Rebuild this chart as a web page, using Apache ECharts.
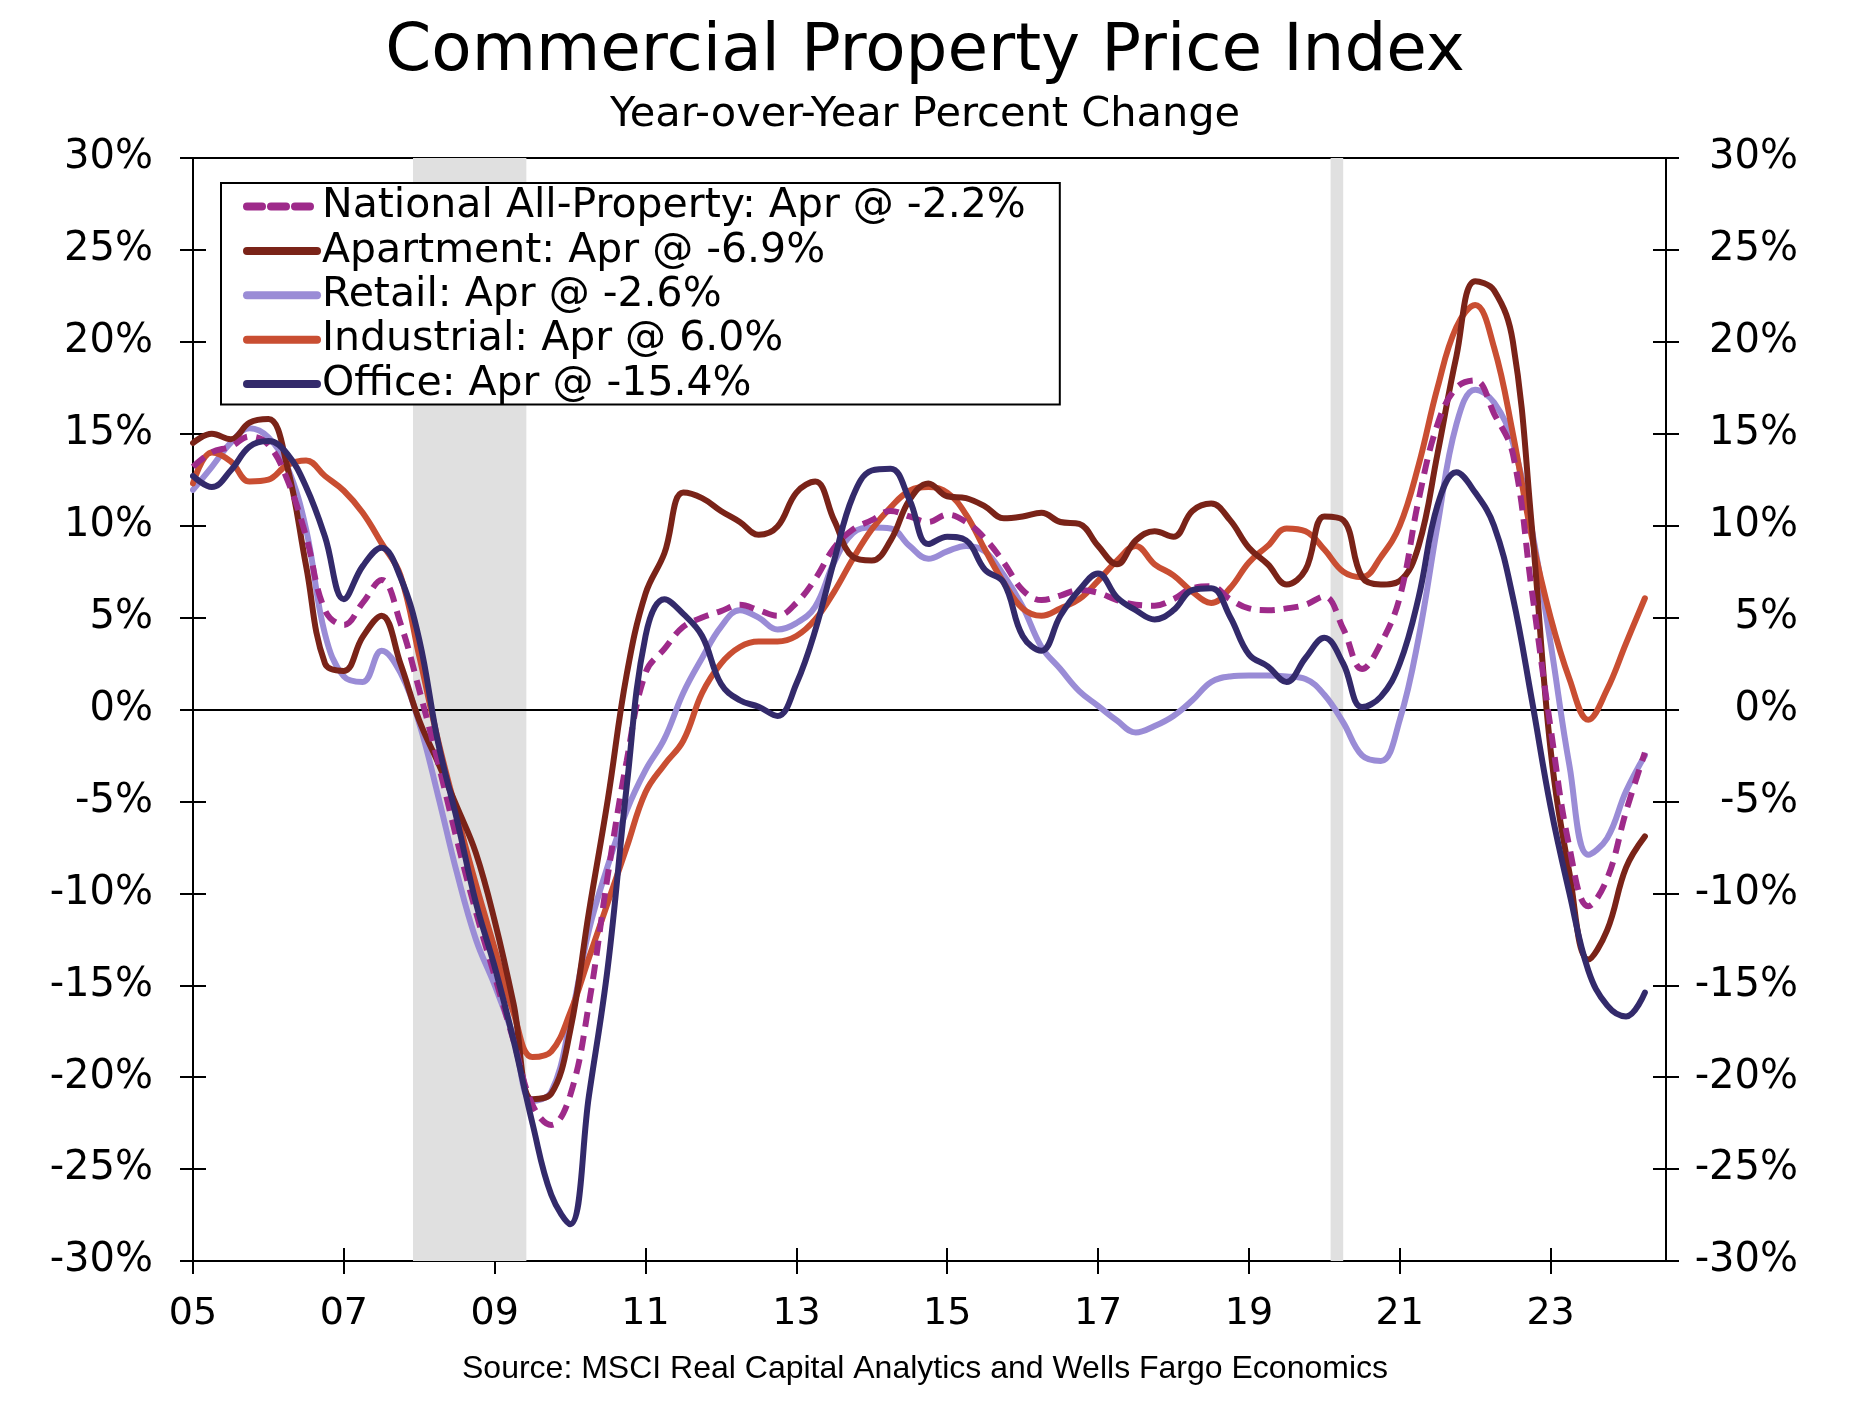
<!DOCTYPE html>
<html><head><meta charset="utf-8">
<script src="https://cdn.jsdelivr.net/npm/echarts@6/dist/echarts.min.js"></script>
<style>html,body{margin:0;padding:0;background:#fff}#c{width:1850px;height:1410px}</style>
</head><body><div id="c"></div>
<script>
// Quarterly observations, Jan 2005 ... Apr 2024 (decimal years)
const dates = [];
for (let y = 2005; y <= 2024; y++) { for (let q = 0; q < 4; q++) { const d = y + q * 0.25; if (d <= 2024.25) dates.push(d); } }

const yearTicks = [2005, 2007, 2009, 2011, 2013, 2015, 2017, 2019, 2021, 2023];
const recessions = [[2007.917, 2009.42], [2020.083, 2020.25]];

const national = [13.2, 14.0, 14.3, 14.85, 14.4, 12.5, 9.4, 5.4, 4.6, 5.8, 7.05, 4.7, 1.06, -2.9, -7.1, -11.0,
  -14.5, -18.0, -21.5, -22.6, -21.0, -16.0, -9.0, -2.8, 2.0, 3.3, 4.5, 5.0, 5.35, 5.7, 5.4, 5.1,
  5.8, 7.1, 8.8, 9.8, 10.3, 10.8, 10.5, 10.2, 10.6, 10.2, 9.3, 8.0, 6.5, 5.95, 6.2, 6.5,
  6.35, 5.95, 5.7, 5.65, 6.0, 6.6, 6.7, 6.0, 5.5, 5.4, 5.5, 5.7, 6.15, 4.4, 2.2, 3.6,
  6.1, 11.4, 15.5, 17.5, 17.9, 16.1, 13.9, 6.5, -1.0, -7.5, -10.7, -9.2, -5.55, -2.35];
const apartment = [14.5, 15.0, 14.7, 15.6, 15.8, 13.2, 7.8, 2.5, 2.1, 3.95, 5.1, 2.5, -0.6, -2.9, -5.3, -7.8,
  -11.5, -16.0, -21.2, -20.9, -17.5, -11.0, -4.9, 1.9, 6.3, 8.5, 11.8, 11.5, 10.8, 10.2, 9.5, 9.95,
  11.8, 12.4, 10.3, 8.3, 8.1, 9.2, 11.4, 12.3, 11.6, 11.5, 11.05, 10.4, 10.5, 10.7, 10.2, 10.1,
  8.9, 7.9, 9.2, 9.7, 9.4, 10.8, 11.2, 10.3, 8.8, 7.9, 6.8, 7.6, 10.5, 10.3, 7.2, 6.8,
  7.0, 8.9, 13.9, 19.2, 23.3, 22.8, 20.0, 10.0, -2.2, -8.9, -13.6, -12.0, -8.6, -6.9];
const retail = [11.95, 13.2, 14.5, 15.3, 14.8, 13.2, 9.8, 4.1, 1.8, 1.5, 3.2, 2.0, -0.75, -4.7, -8.9, -12.5,
  -15.0, -17.8, -21.3, -20.8, -17.0, -12.0, -8.5, -5.5, -3.3, -1.6, 0.9, 2.8, 4.5, 5.4, 5.0, 4.35,
  4.7, 5.6, 8.0, 9.6, 9.9, 9.85, 8.9, 8.2, 8.6, 8.9, 8.6, 7.3, 5.6, 3.4, 2.2, 1.0,
  0.2, -0.6, -1.25, -0.9, -0.35, 0.5, 1.5, 1.8, 1.85, 1.85, 1.8, 1.66, 0.8, -0.7, -2.5, -2.8,
  -0.56, 3.9, 10.0, 15.5, 17.4, 16.7, 14.5, 9.8, 3.6, -3.06, -7.9, -7.0, -4.45, -2.5];
const industrial = [12.3, 13.98, 13.5, 12.4, 12.5, 13.3, 13.55, 12.7, 11.9, 10.7, 9.05, 7.3, 2.9, -1.7, -5.7, -9.5,
  -13.0, -16.5, -18.9, -18.6, -16.5, -13.5, -10.5, -7.5, -4.5, -3.0, -1.7, 0.9, 2.5, 3.4, 3.7, 3.7,
  4.0, 4.9, 6.4, 8.2, 9.8, 11.0, 11.9, 12.1, 11.8, 10.6, 8.7, 6.9, 5.5, 5.1, 5.5, 6.0,
  7.0, 8.1, 8.9, 7.9, 7.3, 6.4, 5.8, 6.6, 8.0, 8.9, 9.85, 9.7, 8.7, 7.5, 7.2, 8.3,
  10.0, 13.3, 17.5, 20.8, 22.0, 19.7, 15.0, 9.4, 5.0, 1.66, -0.56, 1.1, 3.6, 6.05];
const office = [12.7, 12.1, 13.0, 14.3, 14.6, 13.9, 12.1, 9.4, 6.0, 7.8, 8.8, 7.2, 3.8, -1.8, -6.0, -10.5,
  -14.0, -18.0, -22.5, -26.4, -28.0, -21.0, -14.0, -4.2, 4.0, 6.0, 5.2, 4.0, 1.4, 0.5, 0.15, -0.35,
  1.4, 4.3, 8.1, 11.6, 13.0, 13.1, 11.4, 9.0, 9.4, 9.2, 7.6, 6.9, 4.0, 3.2, 5.1, 6.5,
  7.4, 6.1, 5.4, 4.9, 5.4, 6.5, 6.6, 5.05, 3.0, 2.35, 1.5, 2.8, 3.9, 2.5, 0.13, 0.7,
  2.5, 6.1, 11.1, 12.9, 11.8, 10.0, 6.1, 0.55, -5.3, -10.0, -14.2, -16.1, -16.7, -15.4];

const names = {
  national: 'National All-Property: Apr @ -2.2%',
  apartment: 'Apartment: Apr @ -6.9%',
  retail: 'Retail: Apr @ -2.6%',
  industrial: 'Industrial: Apr @ 6.0%',
  office: 'Office: Apr @ -15.4%'
};
const colors = { national: '#9E2A8A', apartment: '#7A2318', retail: '#9A8CD6', industrial: '#C94E32', office: '#332A6B' };

const FONT = 'DejaVu Sans';
const pair = arr => dates.map((d, i) => [d, arr[i]]);

function lineSeries(key, arr, extra) {
  return Object.assign({
    name: names[key], type: 'line', data: pair(arr), smooth: 0.4,
    showSymbol: false, symbol: 'none', animation: false, silent: true,
    lineStyle: { color: colors[key], width: 6, cap: 'round', join: 'round' },
    itemStyle: { color: colors[key] }, z: 3
  }, extra || {});
}

const yCommon = { type: 'value', min: -30, max: 30, interval: 5, splitLine: { show: false } };
const tickStyle = { color: '#000', width: 2 };
const xCommon = { type: 'value', min: 2005, max: 2024.53, position: 'bottom', splitLine: { show: false },
  axisLine: { show: false, onZero: false } };

const option = {
  backgroundColor: '#fff',
  animation: false,
  title: [
    { text: 'Commercial Property Price Index', left: 'center', top: 20, padding: 0,
      textStyle: { fontFamily: FONT, fontSize: 66, fontWeight: 'normal', color: '#000' } },
    { text: 'Year-over-Year Percent Change', left: 'center', top: 94, padding: 0,
      textStyle: { fontFamily: FONT, fontSize: 41.5, fontWeight: 'normal', color: '#000' } },
    { text: 'Source: MSCI Real Capital Analytics and Wells Fargo Economics', left: 'center', top: 1353, padding: 0,
      textStyle: { fontFamily: 'Liberation Sans', fontSize: 32, fontWeight: 'normal', color: '#000' } }
  ],
  grid: { left: 193, right: 184, top: 158, bottom: 149, show: true, borderColor: '#000', borderWidth: 2, backgroundColor: 'transparent', containLabel: false },
  legend: {
    orient: 'vertical', left: 221, top: 183, padding: [3, 34, 0, 22],
    itemWidth: 70, itemHeight: 14, itemGap: 3.4,
    data: [names.national, names.apartment, names.retail, names.industrial, names.office],
    textStyle: { fontFamily: FONT, fontSize: 41, color: '#000' },
    itemStyle: { opacity: 0 },
    lineStyle: { width: 8, cap: 'round' },
    borderColor: '#000', borderWidth: 2, backgroundColor: '#fff', borderRadius: 0,
    selectedMode: false
  },
  xAxis: [
    Object.assign({}, xCommon, {
      axisTick: { show: true, inside: false, length: 13, lineStyle: tickStyle, customValues: yearTicks },
      axisLabel: { show: true, customValues: yearTicks, margin: 34, fontFamily: FONT, fontSize: 38, color: '#000',
        formatter: v => String(Math.round(v) % 100).padStart(2, '0') } }),
    Object.assign({}, xCommon, {
      axisTick: { show: true, inside: true, length: 13, lineStyle: tickStyle, customValues: yearTicks },
      axisLabel: { show: false } })
  ],
  yAxis: [
    Object.assign({}, yCommon, { position: 'left',
      axisLine: { show: false, onZero: false },
      axisTick: { show: true, inside: false, length: 13, lineStyle: tickStyle },
      axisLabel: { margin: 40, fontFamily: FONT, fontSize: 40, color: '#000', formatter: v => v + '%' } }),
    Object.assign({}, yCommon, { position: 'right',
      axisLine: { show: false, onZero: false },
      axisTick: { show: true, inside: false, length: 13, lineStyle: tickStyle },
      axisLabel: { margin: 132, align: 'right', fontFamily: FONT, fontSize: 40, color: '#000', formatter: v => v + '%' } }),
    Object.assign({}, yCommon, { position: 'left',
      axisLine: { show: false, onZero: false },
      axisTick: { show: true, inside: true, length: 13, lineStyle: tickStyle },
      axisLabel: { show: false } }),
    Object.assign({}, yCommon, { position: 'right',
      axisLine: { show: false, onZero: false },
      axisTick: { show: true, inside: true, length: 13, lineStyle: tickStyle },
      axisLabel: { show: false } })
  ],
  series: [
    lineSeries('retail', retail, {
      markArea: { silent: true, itemStyle: { color: '#E0E0E0' }, z: 1,
        data: recessions.map(r => [{ xAxis: r[0] }, { xAxis: r[1] }]) },
      markLine: { silent: true, symbol: ['none', 'none'], label: { show: false },
        lineStyle: { color: '#000', width: 2, type: 'solid' }, data: [{ yAxis: 0 }], z: 2, animation: false }
    }),
    lineSeries('industrial', industrial),
    lineSeries('apartment', apartment),
    lineSeries('national', national, { lineStyle: { color: colors.national, width: 6, type: [15, 9], cap: 'butt' } }),
    lineSeries('office', office)
  ]
};
const chart = echarts.init(document.getElementById('c'));
chart.setOption(option);
</script>
</body></html>
